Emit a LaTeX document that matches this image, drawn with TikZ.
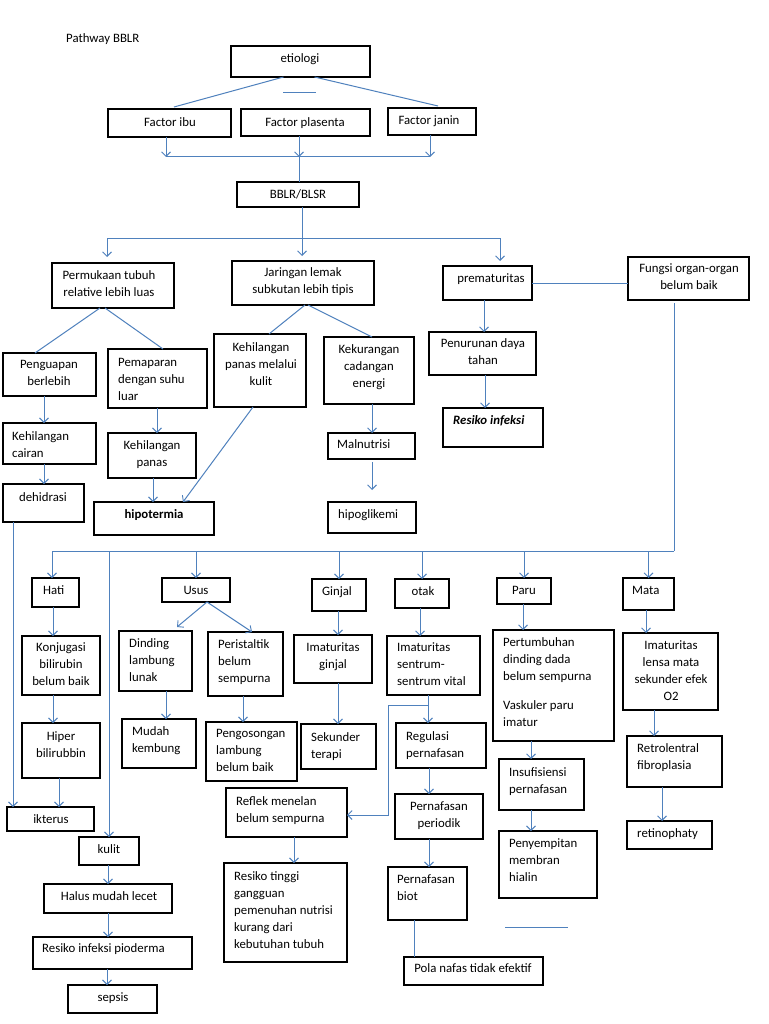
\documentclass[tikz,border=0pt]{standalone}
\usepackage{fontspec}
\setmainfont{Carlito}
\usetikzlibrary{arrows.meta}
\definecolor{lnb}{RGB}{79,129,189}
\tikzset{
 bx/.style={draw=black, line width=1.2pt, rectangle, inner sep=0pt, outer sep=0pt},
 ln/.style={draw=lnb, line width=1pt},
 arr/.style={ln, -{Straight Barb[length=4.5pt,width=9pt,line width=0.9pt]}},
 tc/.style={anchor=north, inner sep=0pt, align=center, font=\fontsize{12.8}{17}\selectfont},
 tl/.style={anchor=north west, inner sep=0pt, align=left, font=\fontsize{12.8}{17}\selectfont},
}
\newcommand\bx[5]{\node[bx, minimum width={(#4)-(#2)}, minimum height={(#5)-(#3)}, anchor=north west] (#1) at (#2,#3) {};}
\newcommand\tC[4]{\node[tc] (#1) at (#2,#3-8) {\strut #4};}
\newcommand\tL[4]{\node[tl] (#1) at (#2,#3-8) {\strut #4};}
\newcommand\vc[3]{\draw[arr] (#1.south -| #3,0) -- (#2.north -| #3,0);}
\begin{document}
\begin{tikzpicture}[x=1pt,y=-1pt]
\useasboundingbox (0,0) rectangle (768,1024);
\fill[white] (0,0) rectangle (768,1024);

\tL{title}{66}{38}{Pathway BBLR}

% ---- top
\bx{etio}{231}{46}{370}{77} \tC{t-etio}{300}{58}{etiologi}
\bx{fibu}{108}{109}{231}{137} \tC{t-fibu}{170}{122}{Factor ibu}
\bx{fpla}{241}{109}{370}{136} \tC{t-fpla}{305}{122}{Factor plasenta}
\bx{fjan}{388}{108}{476}{135} \tC{t-fjan}{429}{120}{Factor janin}
\bx{bblr}{237}{182}{359}{207} \tC{t-bblr}{298}{194}{BBLR/BLSR}

\bx{perm}{52}{263}{174}{308} \tC{t-perm}{109}{275}{Permukaan tubuh\\relative lebih luas}
\bx{jar}{232}{261}{374}{305} \tC{t-jar}{303}{272}{Jaringan lemak\\subkutan lebih tipis}
\bx{prem}{443}{266}{532}{300} \tC{t-prem}{491}{278}{prematuritas}
\bx{fung}{628}{257}{749}{300} \tC{t-fung}{689}{268}{Fungsi organ-organ\\belum baik}

\bx{peng}{3}{353}{96}{396} \tC{t-peng}{49}{364}{Penguapan\\berlebih}
\bx{pema}{108}{349}{207}{408} \tL{t-pema}{118}{362}{Pemaparan\\dengan suhu\\luar}
\bx{khk}{214}{334}{306}{407} \tC{t-khk}{261}{347}{Kehilangan\\panas melalui\\kulit}
\bx{kek}{324}{337}{414}{404} \tC{t-kek}{369}{349}{Kekurangan\\cadangan\\energi}
\bx{penur}{429}{332}{536}{375} \tC{t-penur}{483}{343}{Penurunan daya\\tahan}

\bx{kc}{3}{423}{96}{464} \tL{t-kc}{12}{436}{Kehilangan\\cairan}
\bx{kp}{108}{433}{196}{478} \tC{t-kp}{152}{445}{Kehilangan\\panas}
\bx{maln}{328}{433}{415}{459} \tL{t-maln}{337}{444}{Malnutrisi}
\bx{rinf}{443}{408}{543}{447} \tL{t-rinf}{453}{420}{\bfseries\itshape Resiko infeksi}
\bx{dehi}{3}{484}{84}{522} \tC{t-dehi}{43}{497}{dehidrasi}
\bx{hipo}{94}{502}{214}{535} \tC{t-hipo}{154}{514}{\bfseries hipotermia}
\bx{hglk}{328}{502}{416}{533} \tL{t-hglk}{338}{514}{hipoglikemi}

% ---- organs
\bx{hati}{32}{578}{79}{607} \tL{t-hati}{43}{590}{Hati}
\bx{usus}{162}{578}{230}{602} \tC{t-usus}{196}{590}{Usus}
\bx{ginj}{312}{579}{366}{611} \tC{t-ginj}{337}{591}{Ginjal}
\bx{otak}{395}{579}{449}{608} \tC{t-otak}{423}{591}{otak}
\bx{paru}{497}{578}{551}{604} \tC{t-paru}{524}{590}{Paru}
\bx{mata}{623}{578}{674}{610} \tL{t-mata}{632}{590}{Mata}

\bx{konj}{22}{636}{100}{695} \tC{t-konj}{61}{647}{Konjugasi\\bilirubin\\belum baik}
\bx{hiper}{22}{723}{100}{778} \tC{t-hiper}{61}{736}{Hiper\\bilirubbin}
\bx{ikt}{7}{807}{94}{831} \tC{t-ikt}{51}{819}{ikterus}
\bx{dind}{119}{631}{192}{691} \tL{t-dind}{129}{643}{Dinding\\lambung\\lunak}
\bx{peri}{208}{632}{283}{696} \tL{t-peri}{218}{644}{Peristaltik\\belum\\sempurna}
\bx{muda}{122}{719}{196}{768} \tL{t-muda}{132}{731}{Mudah\\kembung}
\bx{pengo}{206}{722}{297}{781} \tL{t-pengo}{216}{733}{Pengosongan\\lambung\\belum baik}
\bx{imgj}{294}{635}{372}{683} \tC{t-imgj}{333}{647}{Imaturitas\\ginjal}
\bx{sek}{301}{724}{376}{769} \tL{t-sek}{311}{737}{Sekunder\\terapi}
\bx{imsv}{387}{636}{480}{695} \tL{t-imsv}{397}{647}{Imaturitas\\sentrum-\\sentrum vital}
\bx{regu}{396}{723}{486}{768} \tL{t-regu}{406}{736}{Regulasi\\pernafasan}
\bx{pert}{493}{630}{614}{741} \tL{t-pert}{503}{642}{Pertumbuhan\\dinding dada\\belum sempurna}
\tL{t-vask}{503}{705}{Vaskuler paru\\imatur}
\bx{insu}{499}{759}{584}{810} \tL{t-insu}{509}{772}{Insufisiensi\\pernafasan}
\bx{iml}{623}{633}{718}{710} \tC{t-iml}{671}{645}{Imaturitas\\lensa mata\\sekunder efek\\O2}
\bx{retr}{627}{736}{722}{787} \tL{t-retr}{637}{748}{Retrolentral\\fibroplasia}
\bx{reti}{627}{821}{712}{849} \tL{t-reti}{637}{833}{retinophaty}
\bx{peny}{499}{831}{597}{898} \tL{t-peny}{509}{843}{Penyempitan\\membran\\hialin}
\bx{perp}{395}{794}{483}{839} \tC{t-perp}{439}{806}{Pernafasan\\periodik}
\bx{biot}{388}{867}{467}{920} \tL{t-biot}{397}{879}{Pernafasan\\biot}
\bx{pola}{404}{957}{543}{985} \tC{t-pola}{473}{968}{Pola nafas tidak efektif}
\bx{refl}{226}{788}{347}{837} \tL{t-refl}{236}{801}{Reflek menelan\\belum sempurna}
\bx{rtg}{224}{863}{347}{962} \tL{t-rtg}{234}{876}{Resiko tinggi\\gangguan\\pemenuhan nutrisi\\kurang dari\\kebutuhan tubuh}
\bx{kul}{79}{837}{139}{865} \tC{t-kul}{109}{849}{kulit}
\bx{halu}{44}{884}{172}{913} \tC{t-halu}{109}{896}{Halus mudah lecet}
\bx{rpio}{33}{937}{192}{969} \tL{t-rpio}{42}{948}{Resiko infeksi pioderma}
\bx{seps}{68}{985}{157}{1013} \tC{t-seps}{113}{997}{sepsis}

% ---- connectors top
\draw[ln] ([xshift=-17pt]etio.south) -- ([xshift=4.5pt,yshift=2pt]fibu.north);
\draw[ln] ([xshift=14pt]etio.south) -- ([xshift=6pt,yshift=2pt]fjan.north);
\draw[ln] (283,93) -- (316,93);
\coordinate (hb1) at (166,157);
\coordinate (hbm) at (299,157);
\coordinate (hb2) at (430,157);
\draw[arr] (fibu.south -| hb1) -- (hb1);
\draw[arr] (fpla.south -| hbm) -- (hbm);
\draw[arr] (fjan.south -| hb2) -- (hb2);
\draw[ln] (hb1) -- (hb2);
\draw[ln] (hbm) -- (hbm |- bblr.north);
\coordinate (hc) at (302,238);
\coordinate (hl) at (107,238);
\coordinate (hr) at (500,238);
\draw[ln] (bblr.south -| hc) -- (hc);
\draw[ln] (hl) -- (hr);
\draw[arr] (hl) -- ++(0,19);
\draw[arr] (hc) -- ++(0,18);
\draw[arr] (hr) -- ++(0,23);

\draw[ln] ([xshift=-13pt]perm.south) -- ([xshift=-14.5pt]peng.north);
\draw[ln] ([xshift=-8pt]perm.south) -- ([xshift=5.5pt]pema.north);
\draw[ln] ([xshift=2pt]jar.south) -- ([xshift=9pt]khk.north);
\draw[ln] ([xshift=5pt]jar.south) -- ([xshift=3pt]kek.north);
\draw[ln] (prem.east) -- (prem.east -| fung.west);

\vc{peng}{kc}{44}
\vc{kc}{dehi}{44}
\vc{pema}{kp}{157}
\vc{kp}{hipo}{153}
\draw[arr] ([xshift=-7pt]khk.south) -- ([xshift=29pt]hipo.north);
\vc{kek}{maln}{372}
\draw[arr] ([yshift=-3pt]maln.south -| 372,0) -- ([yshift=12pt]hglk.north -| 372,0);
\vc{prem}{penur}{484}
\vc{penur}{rinf}{485}

% ---- organ bar
\coordinate (lv) at (52,551);
\coordinate (rv) at (674,551);
\draw[ln] ([yshift=-3pt]fung.south -| rv) -- (rv);
\draw[ln] (lv) -- (rv);
\draw[arr] (lv) -- (lv |- hati.north);
\draw[arr] (usus.north |- rv) -- (usus.north);
\draw[arr] (ginj.north |- rv) -- (ginj.north);
\draw[arr] (otak.north |- rv) -- (otak.north);
\draw[arr] (paru.north |- rv) -- (paru.north);
\draw[arr] (mata.north |- rv) -- (mata.north);
\draw[arr] (kul.north |- rv) -- (kul.north);
\draw[arr] (dehi.south -| 13,0) -- (ikt.north -| 13,0);

\vc{hati}{konj}{53}
\vc{konj}{hiper}{53}
\vc{hiper}{ikt}{59}
\draw[arr] ([xshift=11pt]usus.south) -- ([xshift=21.5pt,yshift=4pt]dind.north);
\draw[arr] ([xshift=11pt]usus.south) -- ([xshift=6.5pt]peri.north);
\vc{dind}{muda}{166}
\vc{peri}{pengo}{243}
\vc{ginj}{imgj}{338}
\vc{imgj}{sek}{338}
\vc{otak}{imsv}{420}
\vc{imsv}{regu}{428}
\coordinate (br) at (428,705);
\draw[arr] (br) -- (388,705) -- (388,815) -- (refl.east |- 0,815);
\vc{regu}{perp}{429}
\vc{perp}{biot}{429}
\draw[ln] (biot.south -| 414,0) -- (pola.north -| 414,0);
\draw[ln] (505,927) -- (568,927);
\vc{paru}{pert}{523}
\vc{pert}{insu}{531}
\vc{insu}{peny}{531}
\vc{mata}{iml}{646}
\vc{iml}{retr}{654}
\vc{retr}{reti}{662}
\vc{refl}{rtg}{294}
\vc{kul}{halu}{108}
\vc{halu}{rpio}{108}
\vc{rpio}{seps}{107}
\end{tikzpicture}
\end{document}
